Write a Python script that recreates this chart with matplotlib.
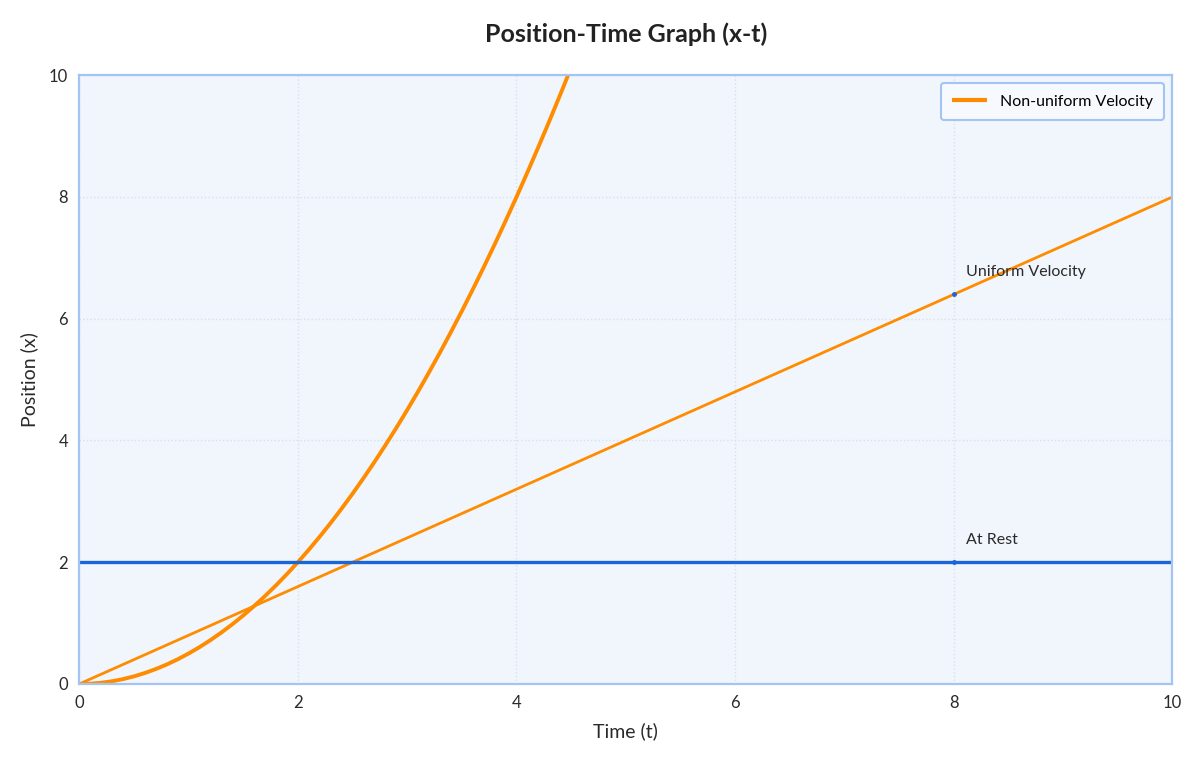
import matplotlib
matplotlib.use("Agg")
import matplotlib.pyplot as plt

plt.rcParams['font.family'] = ['Lato', 'DejaVu Sans']

# time axis samples and readings
t_curve = [0.0, 0.1, 0.2, 0.3, 0.4, 0.5, 0.6, 0.7, 0.8, 0.9,
           1.0, 1.1, 1.2, 1.3, 1.4, 1.5, 1.6, 1.7, 1.8, 1.9,
           2.0, 2.1, 2.2, 2.3, 2.4, 2.5, 2.6, 2.7, 2.8, 2.9,
           3.0, 3.1, 3.2, 3.3, 3.4, 3.5, 3.6, 3.7, 3.8, 3.9,
           4.0, 4.1, 4.2, 4.3, 4.4, 4.5]
x_curve = [0.0, 0.005, 0.02, 0.045, 0.08, 0.125, 0.18, 0.245, 0.32, 0.405,
           0.5, 0.605, 0.72, 0.845, 0.98, 1.125, 1.28, 1.445, 1.62, 1.805,
           2.0, 2.205, 2.42, 2.645, 2.88, 3.125, 3.38, 3.645, 3.92, 4.205,
           4.5, 4.805, 5.12, 5.445, 5.78, 6.125, 6.48, 6.845, 7.22, 7.605,
           8.0, 8.405, 8.82, 9.245, 9.68, 10.125]

t_line = [0, 10]
x_uniform = [0, 8]
x_rest = [2, 2]

ann_t = [8, 8]
ann_x = [6.4, 2]
ann_labels = ['Uniform Velocity', 'At Rest']

orange = '#ff8c00'
blue = '#1a66d9'
edge = '#a4c4f4'

fig = plt.figure(figsize=(12, 7.6), dpi=100)
ax = fig.add_axes([0.066, 0.1, 0.911, 0.801])
ax.set_facecolor('#f1f6fd')

ax.plot(t_curve, x_curve, color=orange, lw=2.8, label='Non-uniform Velocity',
        solid_capstyle='butt')
ax.plot(t_line, x_uniform, color=orange, lw=2.0)
ax.plot(t_line, x_rest, color=blue, lw=2.4)

for t, x, lab in zip(ann_t, ann_x, ann_labels):
    ax.plot(t, x, 'o', color=blue, ms=2.5, zorder=5)
    ax.annotate(lab, (t, x), xytext=(9, 16), textcoords='offset points',
                fontsize=11.5, color='#2a2a2a', va='center')

ax.set_xlim(0, 10)
ax.set_ylim(0, 10)
ax.set_xticks([0, 2, 4, 6, 8, 10])
ax.set_yticks([0, 2, 4, 6, 8, 10])
ax.grid(True, color='#d6e0ef', linestyle=':', lw=1)
ax.tick_params(length=0, labelsize=12, labelcolor='#2a2a2a', pad=8)

for s in ax.spines.values():
    s.set_color(edge)
    s.set_linewidth(1.6)

ax.set_xlabel('Time (t)', fontsize=14, color='#2a2a2a', labelpad=8)
ax.set_ylabel('Position (x)', fontsize=14, color='#2a2a2a', labelpad=8)
ax.set_title('Position-Time Graph (x-t)', fontsize=18, fontweight='bold',
             color='#222222', pad=24)

leg = ax.legend(loc='upper right', fontsize=11.5, frameon=True, fancybox=True,
                edgecolor=edge, facecolor='#f6f9fe', framealpha=1,
                handlelength=2.2, borderpad=0.7)
leg.get_frame().set_linewidth(1.5)
for line in leg.get_lines():
    line.set_linewidth(3)

fig.savefig('out.png', dpi=100)
